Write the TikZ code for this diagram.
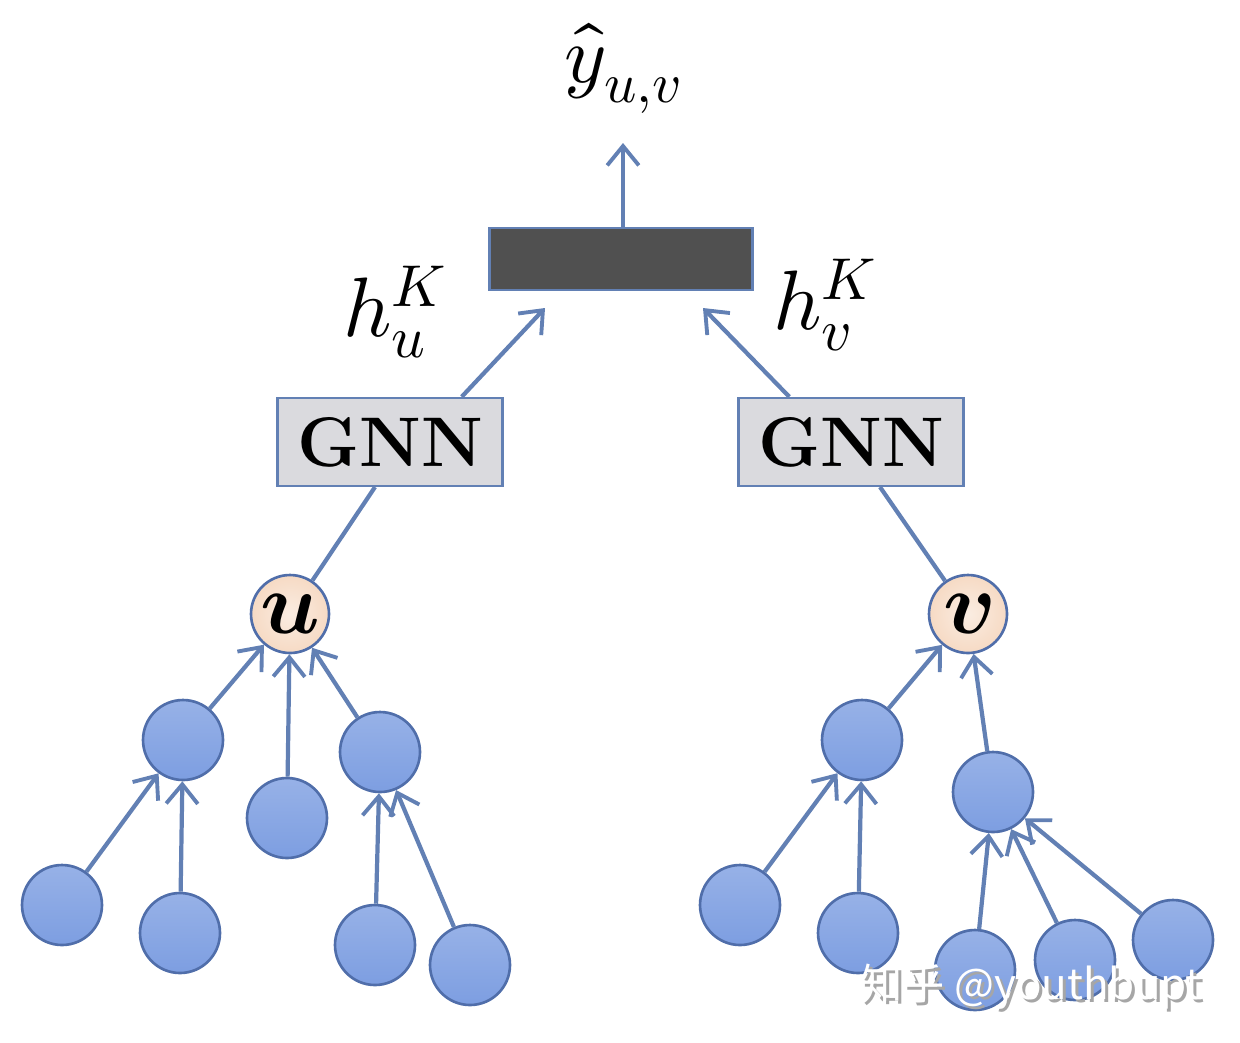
\documentclass[tikz,border=0pt]{standalone}
\usepackage{fontspec}
\usepackage{unicode-math}
\setmathfont{Latin Modern Math}
\newfontfamily\cjk{Noto Sans CJK SC}
\usetikzlibrary{arrows.meta}
\definecolor{edge}{RGB}{98,128,180}
\definecolor{nodefill}{RGB}{125,158,225}
\definecolor{nodeline}{RGB}{80,110,170}
\definecolor{peach}{RGB}{246,218,196}
\definecolor{boxfill}{RGB}{218,218,222}
\definecolor{dark}{RGB}{80,80,80}
\begin{document}
\begin{tikzpicture}[x=0.02cm,y=-0.02cm,
  nb/.style={circle,minimum size=1.6cm,inner sep=0pt,draw=nodeline,line width=1.5pt,top color=nodefill!80!white,bottom color=nodefill},
  root/.style={circle,minimum size=1.56cm,inner sep=0pt,draw=nodeline,line width=1.5pt,inner color=peach!50!white,outer color=peach},
  gnn/.style={draw=edge,line width=1.4pt,fill=boxfill,minimum width=4.5cm,minimum height=1.76cm,inner sep=0pt,font=\fontsize{40}{44}\selectfont\bfseries},
  ar/.style={edge,line width=2.4pt,-{Straight Barb[length=11pt,width=18pt,line width=2.2pt]}},
  ln/.style={edge,line width=2.4pt}]
\useasboundingbox (0,0) rectangle (1240,1042);
% top
\node[draw=edge,line width=1.4pt,fill=dark,minimum width=5.26cm,minimum height=1.24cm] (fuse) at (621,259) {};
\coordinate (out) at (623,143);
\node (yhat) at (623,68) {\fontsize{46}{50}\selectfont$\hat{y}_{u,v}$};
\draw[ar] (fuse.north -| out) -- (out);
\node[gnn] (gl) at (390,442) {GNN};
\node[gnn] (gr) at (851,442) {GNN};
\coordinate (tl) at (545,308);
\coordinate (tr) at (703,308);
\draw[ar] (gl.north east) ++(-42,0) coordinate (gls) -- (tl);
\draw[ar] (gr.north west) ++(52,0) coordinate (grs) -- (tr);
\node (hu) at (395,312) {\fontsize{48}{52}\selectfont$h_u^K$};
\node (hv) at (825,305) {\fontsize{48}{52}\selectfont$h_v^K$};
% roots
\node[root] (u) at (290,614) {\fontsize{50}{52}\selectfont$\symbfit{u}$};
\node[root] (v) at (968,614) {\fontsize{50}{52}\selectfont$\symbfit{v}$};
\draw[ln] (u) -- (375,487);
\draw[ln] (v) -- (880,487);
% left tree
\node[nb] (a1) at (183,740) {};
\node[nb] (a2) at (287,818) {};
\node[nb] (a3) at (380,752) {};
\node[nb] (l1) at (62,905) {};
\node[nb] (l2) at (180,933) {};
\node[nb] (l3) at (375,945) {};
\node[nb] (l4) at (470,965) {};
\draw[ar] (a1) -- (u);
\draw[ar] (a2) -- (u);
\draw[ar] (a3) -- (u);
\draw[ar] (l1) -- (a1);
\draw[ar] (l2) -- (a1);
\draw[ar] (l3) -- (a3);
\draw[ar] (l4) -- (a3);
% right tree
\node[nb] (b1) at (862,740) {};
\node[nb] (b2) at (993,792) {};
\node[nb] (r1) at (740,905) {};
\node[nb] (r2) at (858,933) {};
\node[nb] (r3) at (975,970) {};
\node[nb] (r4) at (1075,960) {};
\node[nb] (r5) at (1173,940) {};
\draw[ar] (b1) -- (v);
\draw[ar] (b2) -- (v);
\draw[ar] (r1) -- (b1);
\draw[ar] (r2) -- (b1);
\draw[ar] (r3) -- (b2);
\draw[ar] (r4) -- (b2);
\draw[ar] (r5) -- (b2);
% watermark
\node[anchor=east,text=gray!70,font=\cjk\fontsize{24}{28}\selectfont] at (1211,990) {知乎 @youthbupt};
\node[anchor=east,text=white,font=\cjk\fontsize{24}{28}\selectfont] (wm) at (1208,987) {知乎 @youthbupt};
\end{tikzpicture}
\end{document}
